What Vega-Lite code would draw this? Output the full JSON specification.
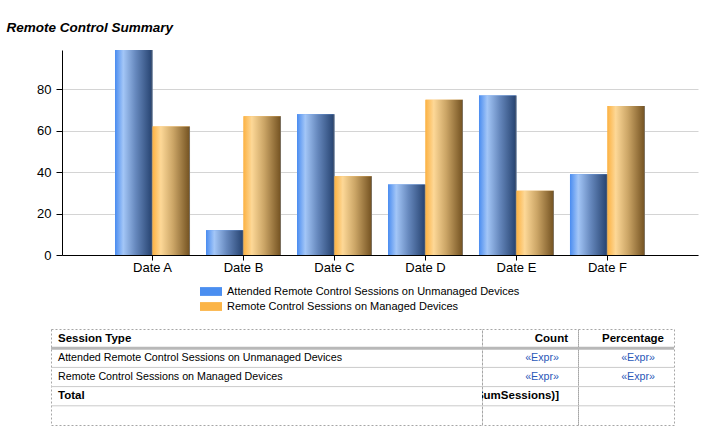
{
  "$schema": "https://vega.github.io/schema/vega-lite/v6.json",
  "padding": {"left": 6, "top": 20, "right": 5, "bottom": 4},
  "background": "white",
  "title": {
    "text": "Remote Control Summary",
    "anchor": "start",
    "font": "Liberation Sans",
    "fontSize": 13.5,
    "fontWeight": "bold",
    "fontStyle": "italic",
    "color": "#000000",
    "dx": -30,
    "offset": 16
  },
  "datasets": {
    "bars": [
      {"date": "Date A", "series": "Attended Remote Control Sessions on Unmanaged Devices", "value": 99},
      {"date": "Date A", "series": "Remote Control Sessions on Managed Devices", "value": 62},
      {"date": "Date B", "series": "Attended Remote Control Sessions on Unmanaged Devices", "value": 12},
      {"date": "Date B", "series": "Remote Control Sessions on Managed Devices", "value": 67},
      {"date": "Date C", "series": "Attended Remote Control Sessions on Unmanaged Devices", "value": 68},
      {"date": "Date C", "series": "Remote Control Sessions on Managed Devices", "value": 38},
      {"date": "Date D", "series": "Attended Remote Control Sessions on Unmanaged Devices", "value": 34},
      {"date": "Date D", "series": "Remote Control Sessions on Managed Devices", "value": 75},
      {"date": "Date E", "series": "Attended Remote Control Sessions on Unmanaged Devices", "value": 77},
      {"date": "Date E", "series": "Remote Control Sessions on Managed Devices", "value": 31},
      {"date": "Date F", "series": "Attended Remote Control Sessions on Unmanaged Devices", "value": 39},
      {"date": "Date F", "series": "Remote Control Sessions on Managed Devices", "value": 72}
    ],
    "table": [
      {"row": 0, "col": "c1", "text": "Session Type", "kind": "header"},
      {"row": 0, "col": "c2", "text": "Count", "kind": "header"},
      {"row": 0, "col": "c3", "text": "Percentage", "kind": "header"},
      {"row": 1, "col": "c1", "text": "Attended Remote Control Sessions on Unmanaged Devices", "kind": "body"},
      {"row": 1, "col": "c2", "text": "«Expr»", "kind": "expr"},
      {"row": 1, "col": "c3", "text": "«Expr»", "kind": "expr"},
      {"row": 2, "col": "c1", "text": "Remote Control Sessions on Managed Devices", "kind": "body"},
      {"row": 2, "col": "c2", "text": "«Expr»", "kind": "expr"},
      {"row": 2, "col": "c3", "text": "«Expr»", "kind": "expr"},
      {"row": 3, "col": "c1", "text": "Total", "kind": "header"},
      {"row": 3, "col": "c2", "text": "=[Sum(SumSessions)]", "kind": "total"},
      {"row": 3, "col": "c3", "text": "", "kind": "body"},
      {"row": 4, "col": "c1", "text": "", "kind": "body"},
      {"row": 4, "col": "c2", "text": "", "kind": "body"},
      {"row": 4, "col": "c3", "text": "", "kind": "body"}
    ]
  },
  "spacing": 16,
  "resolve": {"legend": {"color": "independent"}},
  "vconcat": [
    {
      "spacing": 10,
      "bounds": "flush",
      "resolve": {"legend": {"color": "independent"}},
      "hconcat": [
        {
          "width": 1,
          "height": 205,
          "data": {"values": []},
          "mark": {"type": "point"},
          "encoding": {}
        },
        {
          "width": 636,
          "height": 205,
          "data": {"name": "bars"},
          "encoding": {
            "x": {
              "field": "date",
              "type": "nominal",
              "title": null,
              "scale": {"paddingInner": 0.176, "paddingOuter": 0.583},
              "axis": {
                "labelAngle": 0,
                "labelFontSize": 13,
                "labelColor": "#000000",
                "tickColor": "#000000",
                "domainColor": "#000000",
                "tickSize": 5,
                "labelPadding": 1,
                "grid": false
              }
            },
            "xOffset": {
              "field": "series",
              "type": "nominal",
              "scale": {
                "domain": ["Attended Remote Control Sessions on Unmanaged Devices", "Remote Control Sessions on Managed Devices"],
                "paddingInner": 0,
                "paddingOuter": 0
              }
            },
            "y": {
              "field": "value",
              "type": "quantitative",
              "title": null,
              "scale": {"domain": [0, 99], "nice": false},
              "axis": {
                "values": [0, 20, 40, 60, 80],
                "labelFontSize": 13,
                "labelColor": "#000000",
                "tickColor": "#000000",
                "domainColor": "#000000",
                "tickSize": 6,
                "labelPadding": 5,
                "grid": true,
                "gridColor": "#d4d4d4"
              }
            }
          },
          "layer": [
            {
              "mark": {"type": "bar"},
              "encoding": {
                "color": {
                  "field": "series",
                  "type": "nominal",
                  "scale": {
                    "domain": ["Attended Remote Control Sessions on Unmanaged Devices", "Remote Control Sessions on Managed Devices"],
                    "range": ["#4a8ef0", "#fbb447"]
                  },
                  "legend": {
                    "orient": "none",
                    "legendX": 143.5,
                    "legendY": 236,
                    "direction": "vertical",
                    "title": null,
                    "symbolType": "M-2,-0.8H2V0.8H-2Z",
                    "symbolSize": 121,
                    "symbolStrokeWidth": 0,
                    "labelFontSize": 11,
                    "labelLimit": 400,
                    "labelColor": "#000000",
                    "labelOffset": 10.5,
                    "rowPadding": 3
                  }
                }
              }
            },
            {
              "mark": {"type": "bar"},
              "encoding": {
                "fill": {
                  "condition": {
                    "test": "datum.series === 'Attended Remote Control Sessions on Unmanaged Devices'",
                    "value": {
                      "gradient": "linear",
                      "x1": 0, "y1": 0, "x2": 1, "y2": 0,
                      "stops": [
                        {"offset": 0, "color": "#4a8cf0"},
                        {"offset": 0.22, "color": "#a3c6f7"},
                        {"offset": 0.55, "color": "#6688bd"},
                        {"offset": 0.96, "color": "#2a4775"},
                        {"offset": 1, "color": "#707070"}
                      ]
                    }
                  },
                  "value": {
                    "gradient": "linear",
                    "x1": 0, "y1": 0, "x2": 1, "y2": 0,
                    "stops": [
                      {"offset": 0, "color": "#fcb243"},
                      {"offset": 0.22, "color": "#fdd897"},
                      {"offset": 0.55, "color": "#cba566"},
                      {"offset": 0.96, "color": "#7a5826"},
                      {"offset": 1, "color": "#7c7c7c"}
                    ]
                  }
                }
              }
            }
          ]
        }
      ]
    },
    {
      "spacing": 0,
      "bounds": "flush",
      "hconcat": [
        {
          "width": 431,
          "height": 96,
          "view": {"stroke": "#a6a6a6", "strokeDash": [2, 2]},
          "data": {"name": "table"},
          "transform": [{"filter": "datum.col === 'c1'"}],
          "layer": [
            {
              "transform": [{"filter": "datum.row === 0"}],
              "mark": {"type": "rule", "color": "#b8b8b8", "strokeWidth": 3},
              "encoding": {
                "y": {"field": "row", "type": "ordinal", "bandPosition": 1, "axis": null, "scale": {"domain": [0, 1, 2, 3, 4], "paddingInner": 0, "paddingOuter": 0}}
              }
            },
            {
              "transform": [{"filter": "datum.row >= 1 && datum.row <= 3"}],
              "mark": {"type": "rule", "color": "#cacaca", "strokeWidth": 1},
              "encoding": {
                "y": {"field": "row", "type": "ordinal", "bandPosition": 1, "axis": null, "scale": {"domain": [0, 1, 2, 3, 4], "paddingInner": 0, "paddingOuter": 0}}
              }
            },
            {
              "transform": [{"filter": "datum.kind === 'header'"}],
              "mark": {"type": "text", "align": "left", "baseline": "middle", "dx": 7, "font": "Liberation Sans", "fontSize": 11.5, "fontWeight": "bold", "color": "#000000"},
              "encoding": {
                "x": {"field": "col", "type": "nominal", "axis": null, "scale": {"type": "point", "padding": 0, "align": 0}},
                "y": {"field": "row", "type": "ordinal", "axis": null, "scale": {"domain": [0, 1, 2, 3, 4], "paddingInner": 0, "paddingOuter": 0}},
                "text": {"field": "text"}
              }
            },
            {
              "transform": [{"filter": "datum.kind === 'body'"}],
              "mark": {"type": "text", "align": "left", "baseline": "middle", "dx": 7, "font": "Liberation Sans", "fontSize": 10.7, "color": "#000000"},
              "encoding": {
                "x": {"field": "col", "type": "nominal", "axis": null, "scale": {"type": "point", "padding": 0, "align": 0}},
                "y": {"field": "row", "type": "ordinal", "axis": null, "scale": {"domain": [0, 1, 2, 3, 4], "paddingInner": 0, "paddingOuter": 0}},
                "text": {"field": "text"}
              }
            }
          ]
        },
        {
          "width": 96,
          "height": 96,
          "view": {"stroke": "#a6a6a6", "strokeDash": [2, 2]},
          "data": {"name": "table"},
          "transform": [{"filter": "datum.col === 'c2'"}],
          "layer": [
            {
              "transform": [{"filter": "datum.row === 0"}],
              "mark": {"type": "rule", "color": "#b8b8b8", "strokeWidth": 3},
              "encoding": {
                "y": {"field": "row", "type": "ordinal", "bandPosition": 1, "axis": null, "scale": {"domain": [0, 1, 2, 3, 4], "paddingInner": 0, "paddingOuter": 0}}
              }
            },
            {
              "transform": [{"filter": "datum.row >= 1 && datum.row <= 3"}],
              "mark": {"type": "rule", "color": "#cacaca", "strokeWidth": 1},
              "encoding": {
                "y": {"field": "row", "type": "ordinal", "bandPosition": 1, "axis": null, "scale": {"domain": [0, 1, 2, 3, 4], "paddingInner": 0, "paddingOuter": 0}}
              }
            },
            {
              "transform": [{"filter": "datum.kind === 'header'"}],
              "mark": {"type": "text", "align": "right", "baseline": "middle", "dx": -10, "font": "Liberation Sans", "fontSize": 11.5, "fontWeight": "bold", "color": "#000000"},
              "encoding": {
                "x": {"field": "col", "type": "nominal", "axis": null, "scale": {"type": "point", "padding": 0, "align": 1}},
                "y": {"field": "row", "type": "ordinal", "axis": null, "scale": {"domain": [0, 1, 2, 3, 4], "paddingInner": 0, "paddingOuter": 0}},
                "text": {"field": "text"}
              }
            },
            {
              "transform": [{"filter": "datum.kind === 'expr'"}],
              "mark": {"type": "text", "align": "right", "baseline": "middle", "dx": -19, "font": "Liberation Sans", "fontSize": 10.7, "color": "#2a58b8"},
              "encoding": {
                "x": {"field": "col", "type": "nominal", "axis": null, "scale": {"type": "point", "padding": 0, "align": 1}},
                "y": {"field": "row", "type": "ordinal", "axis": null, "scale": {"domain": [0, 1, 2, 3, 4], "paddingInner": 0, "paddingOuter": 0}},
                "text": {"field": "text"}
              }
            },
            {
              "transform": [{"filter": "datum.kind === 'total'"}],
              "mark": {"type": "text", "align": "right", "baseline": "middle", "dx": -19, "clip": true, "font": "Liberation Sans", "fontSize": 11.5, "fontWeight": "bold", "color": "#000000"},
              "encoding": {
                "x": {"field": "col", "type": "nominal", "axis": null, "scale": {"type": "point", "padding": 0, "align": 1}},
                "y": {"field": "row", "type": "ordinal", "axis": null, "scale": {"domain": [0, 1, 2, 3, 4], "paddingInner": 0, "paddingOuter": 0}},
                "text": {"field": "text"}
              }
            }
          ]
        },
        {
          "width": 96,
          "height": 96,
          "view": {"stroke": "#a6a6a6", "strokeDash": [2, 2]},
          "data": {"name": "table"},
          "transform": [{"filter": "datum.col === 'c3'"}],
          "layer": [
            {
              "transform": [{"filter": "datum.row === 0"}],
              "mark": {"type": "rule", "color": "#b8b8b8", "strokeWidth": 3},
              "encoding": {
                "y": {"field": "row", "type": "ordinal", "bandPosition": 1, "axis": null, "scale": {"domain": [0, 1, 2, 3, 4], "paddingInner": 0, "paddingOuter": 0}}
              }
            },
            {
              "transform": [{"filter": "datum.row >= 1 && datum.row <= 3"}],
              "mark": {"type": "rule", "color": "#cacaca", "strokeWidth": 1},
              "encoding": {
                "y": {"field": "row", "type": "ordinal", "bandPosition": 1, "axis": null, "scale": {"domain": [0, 1, 2, 3, 4], "paddingInner": 0, "paddingOuter": 0}}
              }
            },
            {
              "transform": [{"filter": "datum.kind === 'header'"}],
              "mark": {"type": "text", "align": "right", "baseline": "middle", "dx": -10, "font": "Liberation Sans", "fontSize": 11.5, "fontWeight": "bold", "color": "#000000"},
              "encoding": {
                "x": {"field": "col", "type": "nominal", "axis": null, "scale": {"type": "point", "padding": 0, "align": 1}},
                "y": {"field": "row", "type": "ordinal", "axis": null, "scale": {"domain": [0, 1, 2, 3, 4], "paddingInner": 0, "paddingOuter": 0}},
                "text": {"field": "text"}
              }
            },
            {
              "transform": [{"filter": "datum.kind === 'expr'"}],
              "mark": {"type": "text", "align": "right", "baseline": "middle", "dx": -19, "font": "Liberation Sans", "fontSize": 10.7, "color": "#2a58b8"},
              "encoding": {
                "x": {"field": "col", "type": "nominal", "axis": null, "scale": {"type": "point", "padding": 0, "align": 1}},
                "y": {"field": "row", "type": "ordinal", "axis": null, "scale": {"domain": [0, 1, 2, 3, 4], "paddingInner": 0, "paddingOuter": 0}},
                "text": {"field": "text"}
              }
            }
          ]
        }
      ]
    }
  ],
  "config": {
    "font": "Liberation Sans",
    "view": {"stroke": null},
    "axis": {"labelFont": "Liberation Sans"},
    "legend": {"labelFont": "Liberation Sans"}
  }
}
